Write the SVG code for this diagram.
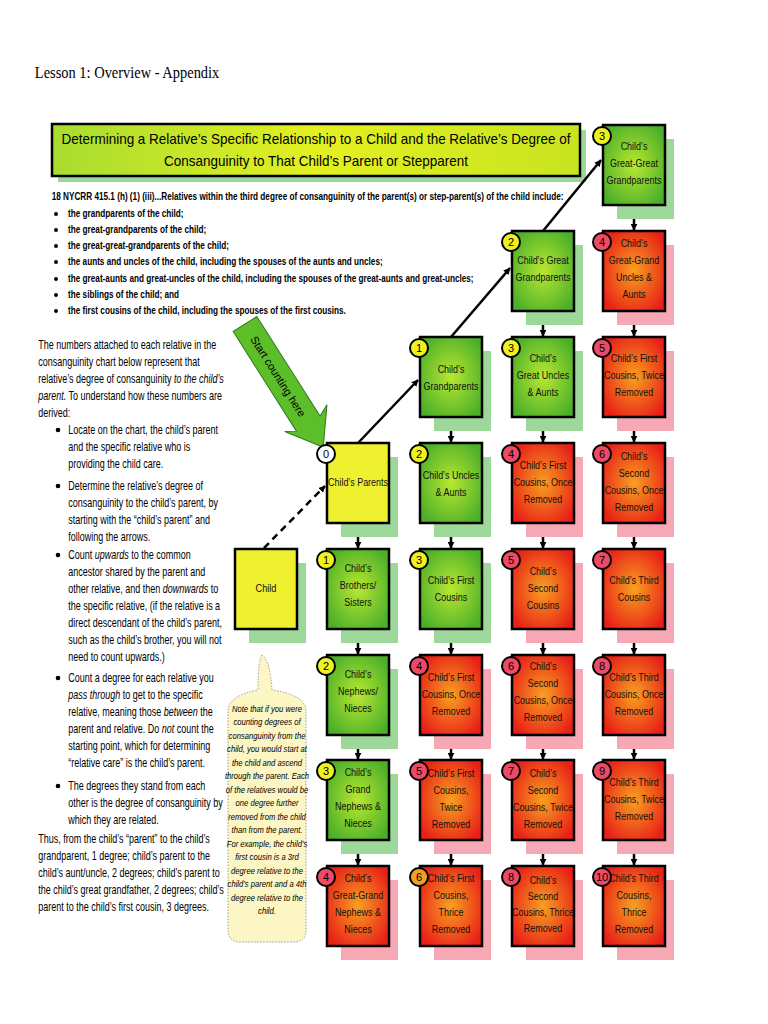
<svg xmlns="http://www.w3.org/2000/svg" width="768" height="1024" viewBox="0 0 768 1024">
<defs>
<radialGradient id="gG" cx="50%" cy="50%" r="60%"><stop offset="0" stop-color="#b8e830"/><stop offset="1" stop-color="#4caf2a"/></radialGradient>
<radialGradient id="gR" cx="50%" cy="50%" r="60%"><stop offset="0" stop-color="#f8a020"/><stop offset="1" stop-color="#e82018"/></radialGradient>
<linearGradient id="gT" x1="0" x2="1"><stop offset="0" stop-color="#a8dc30"/><stop offset="0.5" stop-color="#e4f020"/><stop offset="1" stop-color="#c8e420"/></linearGradient>
<marker id="ah" viewBox="0 0 10 10" refX="9" refY="5" markerWidth="7" markerHeight="7" orient="auto" markerUnits="userSpaceOnUse"><path d="M0,0 L10,5 L0,10 z" fill="#000"/></marker>
</defs>
<style>
.t{font-family:"Liberation Sans",Arial,sans-serif;fill:#000}
.b{font-weight:bold}
.bx{stroke:#000;stroke-width:2.5}
.sg{fill:#9ed79a}.sr{fill:#f6a8b4}
.lab{font-family:"Liberation Sans",Arial,sans-serif;font-size:11.5px;text-anchor:middle;fill:#111}
.num{font-family:"Liberation Sans",Arial,sans-serif;font-size:11px;text-anchor:middle;fill:#000}
.ln{stroke:#000;stroke-width:2.5;fill:none}
</style>
<rect width="768" height="1024" fill="#fff"/>
<text x="41" y="78" font-family="Liberation Serif,serif" font-size="17" transform="scale(0.85,1)">Lesson 1: Overview - Appendix</text>

<g id="title">
<rect x="58" y="130" width="528" height="52" fill="#9ed79a"/>
<rect x="52" y="124" width="528" height="52" fill="url(#gT)" stroke="#000" stroke-width="2.5"/>
<text class="t" x="316" y="144" font-size="15" text-anchor="middle" transform="translate(316,0) scale(0.9,1) translate(-316,0)">Determining a Relative’s Specific Relationship to a Child and the Relative’s Degree of</text>
<text class="t" x="316" y="166" font-size="15" text-anchor="middle" transform="translate(316,0) scale(0.9,1) translate(-316,0)">Consanguinity to That Child’s Parent or Stepparent</text>
</g>

<g id="regs" class="t b" font-size="10" transform="scale(0.82,1)">
<text x="63" y="200">18 NYCRR 415.1 (h) (1) (iii)...Relatives within the third degree of consanguinity of the parent(s) or step-parent(s) of the child include:</text>
<text x="83" y="217">the grandparents of the child;</text>
<text x="83" y="233">the great-grandparents of the child;</text>
<text x="83" y="249">the great-great-grandparents of the child;</text>
<text x="83" y="265">the aunts and uncles of the child, including the spouses of the aunts and uncles;</text>
<text x="83" y="282">the great-aunts and great-uncles of the child, including the spouses of the great-aunts and great-uncles;</text>
<text x="83" y="298">the siblings of the child; and</text>
<text x="83" y="314">the first cousins of the child, including the spouses of the first cousins.</text>
</g>
<g fill="#000"><circle cx="56" cy="214" r="2"/><circle cx="56" cy="230" r="2"/><circle cx="56" cy="246" r="2"/><circle cx="56" cy="262" r="2"/><circle cx="56" cy="279" r="2"/><circle cx="56" cy="295" r="2"/><circle cx="56" cy="311" r="2"/></g>

<g id="explain" class="t" font-size="12" transform="scale(0.75,1)">
<text x="51" y="349">The numbers attached to each relative in the</text>
<text x="51" y="366">consanguinity chart below represent that</text>
<text x="51" y="383">relative’s degree of consanguinity <tspan font-style="italic">to the child’s</tspan></text>
<text x="51" y="400"><tspan font-style="italic">parent.</tspan>  To understand how these numbers are</text>
<text x="51" y="417">derived:</text>
<text x="91" y="434">Locate on the chart, the child’s parent</text>
<text x="91" y="451">and the specific relative who is</text>
<text x="91" y="468">providing the child care.</text>
<text x="91" y="490">Determine the relative’s degree of</text>
<text x="91" y="507">consanguinity to the child’s parent, by</text>
<text x="91" y="524">starting with the “child’s parent” and</text>
<text x="91" y="541">following the arrows.</text>
<text x="91" y="559">Count <tspan font-style="italic">upwards</tspan> to the common</text>
<text x="91" y="576">ancestor shared by the parent and</text>
<text x="91" y="593">other relative, and then <tspan font-style="italic">downwards</tspan> to</text>
<text x="91" y="610">the specific relative, (if the relative is a</text>
<text x="91" y="627">direct descendant of the child’s parent,</text>
<text x="91" y="644">such as the child’s brother, you will not</text>
<text x="91" y="661">need to count upwards.)</text>
<text x="91" y="682">Count a degree for each relative you</text>
<text x="91" y="699"><tspan font-style="italic">pass through</tspan> to get to the specific</text>
<text x="91" y="716">relative, meaning those <tspan font-style="italic">between</tspan> the</text>
<text x="91" y="733">parent and relative.  Do <tspan font-style="italic">not</tspan> count the</text>
<text x="91" y="750">starting point, which for determining</text>
<text x="91" y="767">“relative care” is the child’s parent.</text>
<text x="91" y="790">The degrees they stand from each</text>
<text x="91" y="807">other is the degree of consanguinity by</text>
<text x="91" y="824">which they are related.</text>
<text x="51" y="843">Thus, from the child’s “parent” to the child’s</text>
<text x="51" y="860">grandparent, 1 degree; child’s parent to the</text>
<text x="51" y="877">child’s aunt/uncle, 2 degrees; child’s parent to</text>
<text x="51" y="894">the child’s great grandfather, 2 degrees; child’s</text>
<text x="51" y="911">parent to the child’s first cousin, 3 degrees.</text>
</g>
<g fill="#000"><circle cx="58" cy="430" r="2.3"/><circle cx="58" cy="486" r="2.3"/><circle cx="58" cy="555" r="2.3"/><circle cx="58" cy="678" r="2.3"/><circle cx="58" cy="786" r="2.3"/></g>

<g id="note">
<path d="M262,655 Q270,660 272,690 Q305,695 306,710 L306,930 Q306,942 294,942 L240,942 Q228,942 228,930 L228,710 Q230,695 258,690 Q258,660 262,655 Z" fill="#fbf6c4" stroke="#999" stroke-width="1" stroke-dasharray="1.5,1.5"/>
<g class="t" font-size="9" font-style="italic" text-anchor="middle" transform="translate(267,0) scale(0.85,1)">
<text x="0" y="712">Note that if you were</text>
<text x="0" y="725.5">counting degrees of</text>
<text x="0" y="739">consanguinity from the</text>
<text x="0" y="752.5">child, you would start at</text>
<text x="0" y="766">the child and ascend</text>
<text x="0" y="779.5">through the parent.  Each</text>
<text x="0" y="793">of the relatives  would be</text>
<text x="0" y="806.5">one degree further</text>
<text x="0" y="820">removed from the child</text>
<text x="0" y="833.5">than from the parent.</text>
<text x="0" y="847">For example, the child’s</text>
<text x="0" y="860.5">first cousin is a 3rd</text>
<text x="0" y="874">degree relative to the</text>
<text x="0" y="887.5">child’s parent and a 4th</text>
<text x="0" y="901">degree relative to the</text>
<text x="0" y="914.5">child.</text>
</g>
</g>

<g id="start-arrow" transform="translate(245,324) rotate(57.6)">
<path d="M0,-14 L118,-14 L112,-26 L146,0 L112,24 L118,14 L0,14 Z" fill="#5cbf2a" stroke="#2e7a18" stroke-width="1"/>
<text class="t" x="62" y="4" font-size="11" text-anchor="middle">Start counting here</text>
</g>

<g id="connectors">
<line class="ln" x1="358" y1="443" x2="418" y2="380" marker-end="url(#ah)"/>
<line class="ln" x1="451" y1="337" x2="510" y2="268" marker-end="url(#ah)"/>
<line class="ln" x1="543" y1="231" x2="601" y2="160" marker-end="url(#ah)"/>
<line class="ln" x1="264" y1="548" x2="325" y2="486" stroke-dasharray="7,5" marker-end="url(#ah)"/>
<g class="ln" marker-end="url(#ah)">
<line x1="358" y1="523" x2="358" y2="548"/><line x1="358" y1="629" x2="358" y2="654"/><line x1="358" y1="735" x2="358" y2="759"/><line x1="358" y1="840" x2="358" y2="865"/>
<line x1="451" y1="417" x2="451" y2="442"/><line x1="451" y1="523" x2="451" y2="548"/><line x1="451" y1="629" x2="451" y2="654"/><line x1="451" y1="735" x2="451" y2="759"/><line x1="451" y1="840" x2="451" y2="865"/>
<line x1="543" y1="311" x2="543" y2="336"/><line x1="543" y1="417" x2="543" y2="442"/><line x1="543" y1="523" x2="543" y2="548"/><line x1="543" y1="629" x2="543" y2="654"/><line x1="543" y1="735" x2="543" y2="759"/><line x1="543" y1="840" x2="543" y2="865"/>
<line x1="634" y1="205" x2="634" y2="230"/><line x1="634" y1="311" x2="634" y2="336"/><line x1="634" y1="417" x2="634" y2="442"/><line x1="634" y1="523" x2="634" y2="548"/><line x1="634" y1="629" x2="634" y2="654"/><line x1="634" y1="735" x2="634" y2="759"/><line x1="634" y1="840" x2="634" y2="865"/>
</g>
</g>

<g id="child"><rect class="sg" x="249" y="563" width="57" height="80"/><rect class="bx" x="235" y="549" width="62" height="80" fill="#eef030"/><g transform="translate(266,0) scale(0.8,1)"><text class="lab" x="0" y="592">Child</text></g></g>

<g id="n-parents"><rect class="sg" x="341" y="457" width="57" height="80"/><rect class="bx" x="327" y="443" width="62" height="80" fill="#eef030"/><circle cx="326" cy="454" r="9" fill="#fff" stroke="#000" stroke-width="2"/><text class="num" x="326" y="458">0</text><g transform="translate(358,0) scale(0.78,1)"><text class="lab" x="0" y="486">Child’s Parents</text></g></g>

<g id="n-brothers"><rect class="sg" x="341" y="563" width="57" height="80"/><rect class="bx" x="327" y="549" width="62" height="80" fill="url(#gG)"/><circle cx="326" cy="560" r="9" fill="#eef020" stroke="#000" stroke-width="2"/><text class="num" x="326" y="564">1</text><g transform="translate(358,0) scale(0.78,1)"><text class="lab" x="0" y="572">Child’s</text><text class="lab" x="0" y="589">Brothers/</text><text class="lab" x="0" y="606">Sisters</text></g></g>
<g id="n-nephews"><rect class="sg" x="341" y="669" width="57" height="80"/><rect class="bx" x="327" y="655" width="62" height="80" fill="url(#gG)"/><circle cx="326" cy="666" r="9" fill="#eef020" stroke="#000" stroke-width="2"/><text class="num" x="326" y="670">2</text><g transform="translate(358,0) scale(0.78,1)"><text class="lab" x="0" y="678">Child’s</text><text class="lab" x="0" y="695">Nephews/</text><text class="lab" x="0" y="712">Nieces</text></g></g>
<g id="n-grandnephews"><rect class="sg" x="341" y="774" width="57" height="80"/><rect class="bx" x="327" y="760" width="62" height="80" fill="url(#gG)"/><circle cx="326" cy="771" r="9" fill="#eef020" stroke="#000" stroke-width="2"/><text class="num" x="326" y="775">3</text><g transform="translate(358,0) scale(0.78,1)"><text class="lab" x="0" y="776">Child’s</text><text class="lab" x="0" y="793">Grand</text><text class="lab" x="0" y="810">Nephews &amp;</text><text class="lab" x="0" y="827">Nieces</text></g></g>
<g id="n-ggnephews"><rect class="sr" x="341" y="880" width="57" height="80"/><rect class="bx" x="327" y="866" width="62" height="80" fill="url(#gR)"/><circle cx="326" cy="877" r="9" fill="#ee4a66" stroke="#000" stroke-width="2"/><text class="num" x="326" y="881">4</text><g transform="translate(358,0) scale(0.78,1)"><text class="lab" x="0" y="882">Child’s</text><text class="lab" x="0" y="899">Great-Grand</text><text class="lab" x="0" y="916">Nephews &amp;</text><text class="lab" x="0" y="933">Nieces</text></g></g>

<g id="n-grandparents"><rect class="sg" x="434" y="351" width="57" height="80"/><rect class="bx" x="420" y="337" width="62" height="80" fill="url(#gG)"/><circle cx="419" cy="348" r="9" fill="#eef020" stroke="#000" stroke-width="2"/><text class="num" x="419" y="352">1</text><g transform="translate(451,0) scale(0.78,1)"><text class="lab" x="0" y="373">Child’s</text><text class="lab" x="0" y="390">Grandparents</text></g></g>
<g id="n-uncles"><rect class="sg" x="434" y="457" width="57" height="80"/><rect class="bx" x="420" y="443" width="62" height="80" fill="url(#gG)"/><circle cx="419" cy="454" r="9" fill="#eef020" stroke="#000" stroke-width="2"/><text class="num" x="419" y="458">2</text><g transform="translate(451,0) scale(0.78,1)"><text class="lab" x="0" y="479">Child’s Uncles</text><text class="lab" x="0" y="496">&amp; Aunts</text></g></g>
<g id="n-cousins1"><rect class="sg" x="434" y="563" width="57" height="80"/><rect class="bx" x="420" y="549" width="62" height="80" fill="url(#gG)"/><circle cx="419" cy="560" r="9" fill="#eef020" stroke="#000" stroke-width="2"/><text class="num" x="419" y="564">3</text><g transform="translate(451,0) scale(0.78,1)"><text class="lab" x="0" y="584">Child’s First</text><text class="lab" x="0" y="601">Cousins</text></g></g>
<g id="n-c1o1"><rect class="sr" x="434" y="669" width="57" height="80"/><rect class="bx" x="420" y="655" width="62" height="80" fill="url(#gR)"/><circle cx="419" cy="666" r="9" fill="#ee4a66" stroke="#000" stroke-width="2"/><text class="num" x="419" y="670">4</text><g transform="translate(451,0) scale(0.78,1)"><text class="lab" x="0" y="681">Child’s First</text><text class="lab" x="0" y="698">Cousins, Once</text><text class="lab" x="0" y="715">Removed</text></g></g>
<g id="n-c1o2"><rect class="sr" x="434" y="774" width="57" height="80"/><rect class="bx" x="420" y="760" width="62" height="80" fill="url(#gR)"/><circle cx="419" cy="771" r="9" fill="#ee4a66" stroke="#000" stroke-width="2"/><text class="num" x="419" y="775">5</text><g transform="translate(451,0) scale(0.78,1)"><text class="lab" x="0" y="777">Child’s First</text><text class="lab" x="0" y="794">Cousins,</text><text class="lab" x="0" y="811">Twice</text><text class="lab" x="0" y="828">Removed</text></g></g>
<g id="n-c1o3"><rect class="sr" x="434" y="880" width="57" height="80"/><rect class="bx" x="420" y="866" width="62" height="80" fill="url(#gR)"/><circle cx="419" cy="877" r="9" fill="#f0a020" stroke="#000" stroke-width="2"/><text class="num" x="419" y="881">6</text><g transform="translate(451,0) scale(0.78,1)"><text class="lab" x="0" y="882">Child’s First</text><text class="lab" x="0" y="899">Cousins,</text><text class="lab" x="0" y="916">Thrice</text><text class="lab" x="0" y="933">Removed</text></g></g>

<g id="n-greatgrand"><rect class="sg" x="526" y="245" width="57" height="80"/><rect class="bx" x="512" y="231" width="62" height="80" fill="url(#gG)"/><circle cx="511" cy="242" r="9" fill="#eef020" stroke="#000" stroke-width="2"/><text class="num" x="511" y="246">2</text><g transform="translate(543,0) scale(0.78,1)"><text class="lab" x="0" y="264">Child’s Great</text><text class="lab" x="0" y="281">Grandparents</text></g></g>
<g id="n-greatuncles"><rect class="sg" x="526" y="351" width="57" height="80"/><rect class="bx" x="512" y="337" width="62" height="80" fill="url(#gG)"/><circle cx="511" cy="348" r="9" fill="#eef020" stroke="#000" stroke-width="2"/><text class="num" x="511" y="352">3</text><g transform="translate(543,0) scale(0.78,1)"><text class="lab" x="0" y="362">Child’s</text><text class="lab" x="0" y="379">Great Uncles</text><text class="lab" x="0" y="396">&amp; Aunts</text></g></g>
<g id="n-c1o1b"><rect class="sr" x="526" y="457" width="57" height="80"/><rect class="bx" x="512" y="443" width="62" height="80" fill="url(#gR)"/><circle cx="511" cy="454" r="9" fill="#ee4a66" stroke="#000" stroke-width="2"/><text class="num" x="511" y="458">4</text><g transform="translate(543,0) scale(0.78,1)"><text class="lab" x="0" y="469">Child’s First</text><text class="lab" x="0" y="486">Cousins, Once</text><text class="lab" x="0" y="503">Removed</text></g></g>
<g id="n-c2"><rect class="sr" x="526" y="563" width="57" height="80"/><rect class="bx" x="512" y="549" width="62" height="80" fill="url(#gR)"/><circle cx="511" cy="560" r="9" fill="#ee4a66" stroke="#000" stroke-width="2"/><text class="num" x="511" y="564">5</text><g transform="translate(543,0) scale(0.78,1)"><text class="lab" x="0" y="575">Child’s</text><text class="lab" x="0" y="592">Second</text><text class="lab" x="0" y="609">Cousins</text></g></g>
<g id="n-c2o1"><rect class="sr" x="526" y="669" width="57" height="80"/><rect class="bx" x="512" y="655" width="62" height="80" fill="url(#gR)"/><circle cx="511" cy="666" r="9" fill="#ee4a66" stroke="#000" stroke-width="2"/><text class="num" x="511" y="670">6</text><g transform="translate(543,0) scale(0.78,1)"><text class="lab" x="0" y="670">Child’s</text><text class="lab" x="0" y="687">Second</text><text class="lab" x="0" y="704">Cousins, Once</text><text class="lab" x="0" y="721">Removed</text></g></g>
<g id="n-c2o2"><rect class="sr" x="526" y="774" width="57" height="80"/><rect class="bx" x="512" y="760" width="62" height="80" fill="url(#gR)"/><circle cx="511" cy="771" r="9" fill="#ee4a66" stroke="#000" stroke-width="2"/><text class="num" x="511" y="775">7</text><g transform="translate(543,0) scale(0.78,1)"><text class="lab" x="0" y="777">Child’s</text><text class="lab" x="0" y="794">Second</text><text class="lab" x="0" y="811">Cousins, Twice</text><text class="lab" x="0" y="828">Removed</text></g></g>
<g id="n-c2o3"><rect class="sr" x="526" y="880" width="57" height="80"/><rect class="bx" x="512" y="866" width="62" height="80" fill="url(#gR)"/><circle cx="511" cy="877" r="9" fill="#ee4a66" stroke="#000" stroke-width="2"/><text class="num" x="511" y="881">8</text><g transform="translate(543,0) scale(0.78,1)"><text class="lab" x="0" y="884" font-size="10.5">Child’s</text><text class="lab" x="0" y="900" font-size="10.5">Second</text><text class="lab" x="0" y="916" font-size="10.5">Cousins, Thrice</text><text class="lab" x="0" y="932" font-size="10.5">Removed</text></g></g>

<g id="n-ggg"><rect class="sg" x="617" y="139" width="57" height="80"/><rect class="bx" x="603" y="125" width="62" height="80" fill="url(#gG)"/><circle cx="602" cy="136" r="9" fill="#eef020" stroke="#000" stroke-width="2"/><text class="num" x="602" y="140">3</text><g transform="translate(634,0) scale(0.78,1)"><text class="lab" x="0" y="150">Child’s</text><text class="lab" x="0" y="167">Great-Great</text><text class="lab" x="0" y="184">Grandparents</text></g></g>
<g id="n-ggu"><rect class="sr" x="617" y="245" width="57" height="80"/><rect class="bx" x="603" y="231" width="62" height="80" fill="url(#gR)"/><circle cx="602" cy="242" r="9" fill="#ee4a66" stroke="#000" stroke-width="2"/><text class="num" x="602" y="246">4</text><g transform="translate(634,0) scale(0.78,1)"><text class="lab" x="0" y="247">Child’s</text><text class="lab" x="0" y="264">Great-Grand</text><text class="lab" x="0" y="281">Uncles &amp;</text><text class="lab" x="0" y="298">Aunts</text></g></g>
<g id="n-c1o2b"><rect class="sr" x="617" y="351" width="57" height="80"/><rect class="bx" x="603" y="337" width="62" height="80" fill="url(#gR)"/><circle cx="602" cy="348" r="9" fill="#ee4a66" stroke="#000" stroke-width="2"/><text class="num" x="602" y="352">5</text><g transform="translate(634,0) scale(0.78,1)"><text class="lab" x="0" y="362">Child’s First</text><text class="lab" x="0" y="379">Cousins, Twice</text><text class="lab" x="0" y="396">Removed</text></g></g>
<g id="n-c2o1b"><rect class="sr" x="617" y="457" width="57" height="80"/><rect class="bx" x="603" y="443" width="62" height="80" fill="url(#gR)"/><circle cx="602" cy="454" r="9" fill="#ee4a66" stroke="#000" stroke-width="2"/><text class="num" x="602" y="458">6</text><g transform="translate(634,0) scale(0.78,1)"><text class="lab" x="0" y="460">Child’s</text><text class="lab" x="0" y="477">Second</text><text class="lab" x="0" y="494">Cousins, Once</text><text class="lab" x="0" y="511">Removed</text></g></g>
<g id="n-c3"><rect class="sr" x="617" y="563" width="57" height="80"/><rect class="bx" x="603" y="549" width="62" height="80" fill="url(#gR)"/><circle cx="602" cy="560" r="9" fill="#ee4a66" stroke="#000" stroke-width="2"/><text class="num" x="602" y="564">7</text><g transform="translate(634,0) scale(0.78,1)"><text class="lab" x="0" y="584">Child’s Third</text><text class="lab" x="0" y="601">Cousins</text></g></g>
<g id="n-c3o1"><rect class="sr" x="617" y="669" width="57" height="80"/><rect class="bx" x="603" y="655" width="62" height="80" fill="url(#gR)"/><circle cx="602" cy="666" r="9" fill="#ee4a66" stroke="#000" stroke-width="2"/><text class="num" x="602" y="670">8</text><g transform="translate(634,0) scale(0.78,1)"><text class="lab" x="0" y="681">Child’s Third</text><text class="lab" x="0" y="698">Cousins, Once</text><text class="lab" x="0" y="715">Removed</text></g></g>
<g id="n-c3o2"><rect class="sr" x="617" y="774" width="57" height="80"/><rect class="bx" x="603" y="760" width="62" height="80" fill="url(#gR)"/><circle cx="602" cy="771" r="9" fill="#ee4a66" stroke="#000" stroke-width="2"/><text class="num" x="602" y="775">9</text><g transform="translate(634,0) scale(0.78,1)"><text class="lab" x="0" y="786">Child’s Third</text><text class="lab" x="0" y="803">Cousins, Twice</text><text class="lab" x="0" y="820">Removed</text></g></g>
<g id="n-c3o3"><rect class="sr" x="617" y="880" width="57" height="80"/><rect class="bx" x="603" y="866" width="62" height="80" fill="url(#gR)"/><circle cx="602" cy="877" r="9" fill="#ee4a66" stroke="#000" stroke-width="2"/><text class="num" x="602" y="881" font-size="10">10</text><g transform="translate(634,0) scale(0.78,1)"><text class="lab" x="0" y="882">Child’s Third</text><text class="lab" x="0" y="899">Cousins,</text><text class="lab" x="0" y="916">Thrice</text><text class="lab" x="0" y="933">Removed</text></g></g>
</svg>
